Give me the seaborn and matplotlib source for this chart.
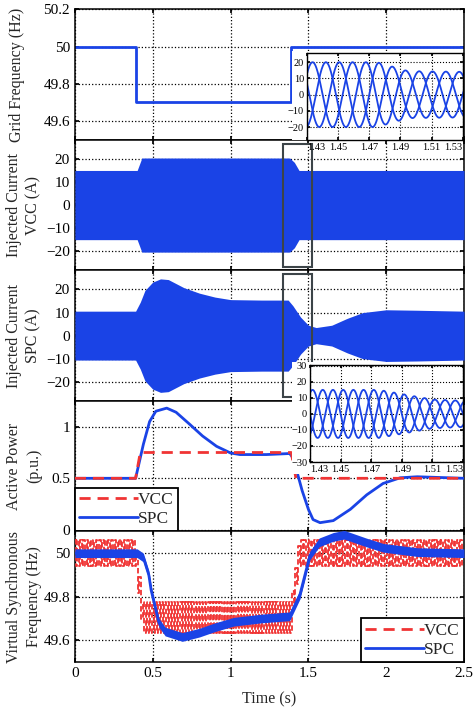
import numpy as np
import matplotlib
matplotlib.use("Agg")
import matplotlib.pyplot as plt
import seaborn as sns
from matplotlib.patches import Rectangle
from matplotlib.lines import Line2D

# ---- data ----
# grid frequency step (Hz)
grid_t = [0.0, 0.39, 0.39, 1.39, 1.39, 2.5]
grid_f = [50.0, 50.0, 49.7, 49.7, 50.0, 50.0]

# envelope of the injected current, VCC (A)
vcc_env_t = [0.0, 0.40, 0.43, 1.38, 1.41, 1.44, 2.5]
vcc_env_a = [15.0, 15.0, 20.4, 20.4, 18.5, 15.0, 15.0]

# envelope of the injected current, SPC (A)
spc_env_t = [0.0, 0.39, 0.42, 0.45, 0.50, 0.55, 0.60, 0.70, 0.80, 0.90, 1.00,
             1.20, 1.37, 1.40, 1.45, 1.50, 1.55, 1.65, 1.75, 1.85, 2.00, 2.20, 2.50]
spc_env_a = [10.6, 10.6, 14.5, 19.6, 23.2, 24.6, 24.3, 20.8, 18.4, 16.7, 15.6,
             15.4, 15.4, 13.0, 8.0, 4.5, 3.5, 4.5, 7.5, 10.0, 11.2, 11.0, 10.6]

# zoomed three-phase currents (insets)
zoom_t_lim = (1.43, 1.53)
zoom_ticks = [1.43, 1.45, 1.47, 1.49, 1.51, 1.53]
vcc_zoom_t = [1.425, 1.475, 1.495, 1.535]
vcc_zoom_a = [20.0, 20.0, 14.5, 14.0]
vcc_zoom_hz = 39.0
spc_zoom_t = [1.425, 1.475, 1.51, 1.535]
spc_zoom_a = [15.0, 15.0, 9.0, 8.0]
spc_zoom_hz = 50.0

# active power (p.u.)
p_vcc_t = [0.0, 0.39, 0.42, 1.39, 1.42, 2.5]
p_vcc = [0.5, 0.5, 0.75, 0.75, 0.5, 0.5]
p_spc_t = [0.0, 0.39, 0.44, 0.48, 0.52, 0.59, 0.65, 0.74, 0.82, 0.91, 1.00, 1.06,
           1.23, 1.38, 1.40, 1.42, 1.46, 1.50, 1.53, 1.575, 1.66, 1.77, 1.875,
           1.98, 2.09, 2.20, 2.30, 2.50]
p_spc = [0.5, 0.5, 0.83, 1.05, 1.15, 1.18, 1.14, 1.02, 0.91, 0.81, 0.745, 0.73,
         0.73, 0.74, 0.70, 0.60, 0.38, 0.20, 0.10, 0.07, 0.09, 0.20, 0.34,
         0.45, 0.505, 0.515, 0.51, 0.5]

# virtual synchronous frequency (Hz): centre line and ripple half-width
vsf_vcc_t = [0.0, 0.39, 0.44, 1.39, 1.445, 2.5]
vsf_vcc_c = [50.0, 50.0, 49.705, 49.705, 50.0, 50.0]
vsf_vcc_h = [0.06, 0.06, 0.07, 0.07, 0.06, 0.06]
vsf_spc_t = [0.0, 0.40, 0.44, 0.475, 0.49, 0.52, 0.54, 0.58, 0.69, 0.80, 0.90,
             1.02, 1.20, 1.38, 1.446, 1.478, 1.51, 1.57, 1.66, 1.73, 1.87,
             1.98, 2.20, 2.50]
vsf_spc_c = [50.0, 50.0, 49.98, 49.90, 49.83, 49.74, 49.68, 49.64, 49.615,
             49.635, 49.66, 49.685, 49.70, 49.71, 49.81, 49.90, 49.99, 50.05,
             50.075, 50.085, 50.05, 50.025, 50.005, 50.0]
vsf_spc_h = 0.02

BLUE = "#1a43e6"
RED = "#f03434"

sns.set_theme(style="ticks")
plt.rcParams["font.family"] = ["Liberation Serif", "DejaVu Serif"]
plt.rcParams["axes.unicode_minus"] = True

fig = plt.figure(figsize=(4.74, 7.1), dpi=100)
axes = fig.subplots(5, 1, sharex=True)
fig.subplots_adjust(left=0.158, right=0.979, top=0.987, bottom=0.0676, hspace=0)

for ax in axes:
    ax.set_xlim(0, 2.5)
    ax.grid(True, color="black", linestyle=":", linewidth=0.9)
    ax.tick_params(direction="in", top=True, right=True, labelsize=11,
                   length=3, color="black", labelcolor="black")
    for s in ax.spines.values():
        s.set_color("black")
        s.set_linewidth(1.1)
axes[-1].set_xticks([0, 0.5, 1, 1.5, 2, 2.5])
axes[-1].set_xticklabels(["0", "0.5", "1", "1.5", "2", "2.5"])
axes[-1].set_xlabel("Time (s)", fontsize=11.5, labelpad=8)

# 1) grid frequency
ax = axes[0]
sns.lineplot(x=grid_t, y=grid_f, ax=ax, color=BLUE, linewidth=2.0,
             estimator=None, sort=False)
ax.set_ylim(49.5, 50.2)
ax.set_yticks([49.6, 49.8, 50, 50.2])
ax.set_yticklabels(["49.6", "49.8", "50", "50.2"])
ax.set_ylabel("Grid Frequency (Hz)", fontsize=11.5)
ax.yaxis.set_label_coords(-0.129, 0.5)

# 2) VCC current, 3) SPC current
for ax, et, ea, lab in [(axes[1], vcc_env_t, vcc_env_a, "Injected Current\nVCC (A)"),
                        (axes[2], spc_env_t, spc_env_a, "Injected Current\nSPC (A)")]:
    ea = np.array(ea)
    ax.fill_between(et, -ea, ea, color=BLUE, linewidth=0, zorder=3)
    ax.set_ylim(-28.3, 28.3)
    ax.set_yticks([-20, -10, 0, 10, 20])
    ax.set_ylabel(lab, fontsize=11.5, linespacing=1.35)
    ax.yaxis.set_label_coords(-0.085, 0.5)
    ax.add_patch(Rectangle((1.337, -26.7), 0.186, 53.3, fill=False,
                           edgecolor="#3c4448", linewidth=1.5, zorder=6))

# 4) active power
ax = axes[3]
sns.lineplot(x=p_spc_t, y=p_spc, ax=ax, color=BLUE, linewidth=2.0,
             estimator=None, sort=False, zorder=3)
sns.lineplot(x=p_vcc_t, y=p_vcc, ax=ax, color=RED, linewidth=2.0,
             estimator=None, sort=False, zorder=4, dashes=False)
ax.lines[-1].set_linestyle((0, (4, 2.5)))
ax.set_ylim(-0.015, 1.25)
ax.set_yticks([0, 0.5, 1])
ax.set_yticklabels(["0", "0.5", "1"])
ax.set_ylabel("Active Power\n(p.u.)", fontsize=11.5, linespacing=1.35)
ax.yaxis.set_label_coords(-0.085, 0.5)

handles = [Line2D([], [], color=RED, linewidth=2.0, linestyle=(0, (4, 2.5))),
           Line2D([], [], color=BLUE, linewidth=2.0)]
leg_kw = dict(fontsize=12.5, frameon=True, fancybox=False, edgecolor="black",
              framealpha=1, handlelength=3.4, handletextpad=0.0,
              borderaxespad=0.0, borderpad=0.25, labelspacing=0.15)
leg = ax.legend(handles, ["VCC", "SPC"], loc="lower left", **leg_kw)
leg.get_frame().set_linewidth(1.3)
leg.set_zorder(8)

# 5) virtual synchronous frequency
ax = axes[4]
rt = np.arange(0.0, 2.5, 0.01)
rc = np.interp(rt, vsf_vcc_t, vsf_vcc_c)
rh = np.interp(rt, vsf_vcc_t, vsf_vcc_h)
ry = rc + np.where(np.arange(rt.size) % 2 == 0, rh, -rh)
ax.plot(rt, ry, color=RED, linewidth=1.3, linestyle=(0, (3, 1.5)),
        drawstyle="steps-mid", zorder=3)
sc = np.array(vsf_spc_c)
ax.fill_between(vsf_spc_t, sc - vsf_spc_h, sc + vsf_spc_h, color=BLUE,
                linewidth=0, zorder=4)
sns.lineplot(x=vsf_spc_t, y=vsf_spc_c, ax=ax, color=BLUE, linewidth=2.0,
             estimator=None, sort=False, zorder=4)
ax.set_ylim(49.5, 50.1)
ax.set_yticks([49.6, 49.8, 50])
ax.set_yticklabels(["49.6", "49.8", "50"])
ax.set_ylabel("Virtual Synchronous\nFrequency (Hz)", fontsize=11.5, linespacing=1.35)
ax.yaxis.set_label_coords(-0.085, 0.5)
leg = ax.legend(handles, ["VCC", "SPC"], loc="lower right", **leg_kw)
leg.get_frame().set_linewidth(1.3)

# ---- insets with the zoomed three-phase currents ----
W, H = 474.0, 710.0


def fig_box(x0, y0, x1, y1):
    return [x0 / W, 1 - y1 / H, (x1 - x0) / W, (y1 - y0) / H]


def inset(box, white, zt, za, hz, ylim, yticks):
    bg = Rectangle((white[0] / W, 1 - white[3] / H), (white[2] - white[0]) / W,
                   (white[3] - white[1]) / H, transform=fig.transFigure,
                   facecolor="white", edgecolor="none", zorder=1)
    fig.add_artist(bg)
    ai = fig.add_axes(box)
    ai.set_zorder(2)
    t = np.linspace(zoom_t_lim[0] - 0.005, zoom_t_lim[1] + 0.005, 900)
    amp = np.interp(t, zt, za)
    for k in range(3):
        ai.plot(t, amp * np.sin(2 * np.pi * hz * t - k * 2 * np.pi / 3),
                color=BLUE, linewidth=1.3)
    ai.set_xlim(*zoom_t_lim)
    ai.set_ylim(*ylim)
    ai.set_xticks(zoom_ticks)
    ai.set_xticklabels([f"{v:.2f}" for v in zoom_ticks])
    ai.set_yticks(yticks)
    ai.grid(True, color="black", linestyle=":", linewidth=0.8)
    ai.tick_params(direction="in", labelsize=7.5, length=2, pad=2,
                   top=True, right=True, color="black", labelcolor="black")
    labs = ai.get_xticklabels()
    labs[0].set_horizontalalignment("left")
    labs[-1].set_horizontalalignment("right")
    for s in ai.spines.values():
        s.set_color("black")
        s.set_linewidth(1.0)
    return ai


inset(fig_box(306.7, 53.3, 462.7, 140), (292, 51, 462, 140),
      vcc_zoom_t, vcc_zoom_a, vcc_zoom_hz, (-28, 25.5), [-20, -10, 0, 10, 20])
inset(fig_box(310, 365, 463, 462), (292, 362, 462, 474),
      spc_zoom_t, spc_zoom_a, spc_zoom_hz, (-30, 30.5), [-30, -20, -10, 0, 10, 20, 30])

fig.savefig("out.png", dpi=100)
